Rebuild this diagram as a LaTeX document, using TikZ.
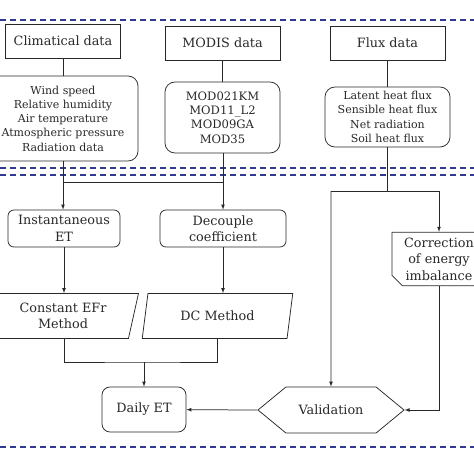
\documentclass[tikz,border=0pt]{standalone}
\usepackage{fontspec}
\setmainfont{DejaVu Serif}
\usetikzlibrary{shapes.geometric,shapes.misc,shapes.symbols}
\definecolor{sepblue}{RGB}{48,58,145}
\definecolor{ink}{RGB}{40,40,40}
\begin{document}
\begin{tikzpicture}[x=1pt,y=-1pt,>=latex,line width=0.75pt,draw=ink,
  every node/.style={font=\fontsize{12.8}{16.5}\selectfont,align=center,inner sep=2pt,text=ink},
  databox/.style={shape=rectangle,draw=ink,minimum width=115pt,minimum height=34pt},
  listbox/.style={shape=rectangle,rounded corners=10pt,draw=ink,font=\fontsize{11}{14.3}\selectfont},
  stepbox/.style={shape=rectangle,rounded corners=6pt,draw=ink,minimum height=37pt},
  methodbox/.style={shape=trapezium,trapezium left angle=77,trapezium right angle=103,
    trapezium stretches=true,draw=ink,minimum width=151pt,minimum height=45pt},
  sepline/.style={draw=sepblue,dash pattern=on 6pt off 4pt,line width=1.1pt}]
    \useasboundingbox (0,0) rectangle (474,474);
    \clip (0,0) rectangle (474,474);

    % separators
    \draw[sepline] (0,20) -- (474,20);
    \draw[sepline] (0,168) -- (474,168);
    \draw[sepline] (0,175) -- (474,175);
    \draw[sepline] (0,447) -- (474,447);

    % data sources
    \node[databox] (1) at (63,41) {Climatical data};
    \node[databox] (2) at (222.5,43) {MODIS data};
    \node[databox] (3) at (387.5,43) {Flux data};

    \node[listbox,minimum width=150pt,minimum height=85pt] (4) at (63,118.5)
        {Wind speed\\Relative humidity\\Air temperature\\Atmospheric pressure\\Radiation data};
    \node[listbox,minimum width=115pt,minimum height=71pt,font=\fontsize{11.6}{14.3}\selectfont]
        (5) at (222.5,117.5) {MOD021KM\\MOD11\_L2\\MOD09GA\\MOD35};
    \node[listbox,minimum width=125pt,minimum height=60pt] (6) at (387.5,117)
        {Latent heat flux\\Sensible heat flux\\Net radiation\\Soil heat flux};

    % processing
    \node[stepbox,minimum width=112pt] (7) at (64,228.5) {Instantaneous\\ET};
    \node[stepbox,minimum width=126pt] (8) at (223,228.5) {Decouple\\coefficient};
    \node[shape=chamfered rectangle,chamfered rectangle corners=south west,
        chamfered rectangle xsep=7pt,draw=ink,minimum width=94pt,minimum height=48pt]
        (9) at (439,259) {Correction\\of energy\\imbalance};

    \node[methodbox] (10) at (63,316) {Constant EFr\\Method};
    \node[methodbox] (11) at (217.5,316) {DC Method};

    \node[shape=rectangle,rounded corners=8pt,draw=ink,minimum width=84pt,minimum height=45pt]
        (12) at (144,409.5) {Daily ET};
    \node[shape=signal,signal to=west and east,signal pointer angle=79,draw=ink,
        minimum width=146pt,minimum height=46pt] (13) at (331,410) {Validation};

    % junctions
    \coordinate (j1) at (63,182);
    \coordinate (j2) at (223,182);
    \coordinate (j3) at (387.5,191);
    \coordinate (j4) at (331,191);
    \coordinate (j5) at (439,191);
    \coordinate (j6) at (144,362);

    \path [-] (1) edge (4); \path [-] (2) edge (5); \path [-] (3) edge (6);
    \draw (4) -- (j1) -- (j2) -- (j2 |- 5.south);
    \draw [->] (j1) -- (j1 |- 7.north); \draw [->] (j2) -- (8);
    \draw (6) -- (j3); \draw (j4) -- (j5);
    \draw [->] (j5) -- (9); \draw [->] (j4) -- (13);
    \draw [->] (7) -- (7 |- 10.north); \draw [->] (8) -- (8 |- 11.north);
    \draw (10.south -| 7) |- (j6) -| (11);
    \draw [->] (j6) -- (12);
    \draw [->] (9) |- (13.east);
    \draw [->] (13.west) -- (12);
\end{tikzpicture}
\end{document}
